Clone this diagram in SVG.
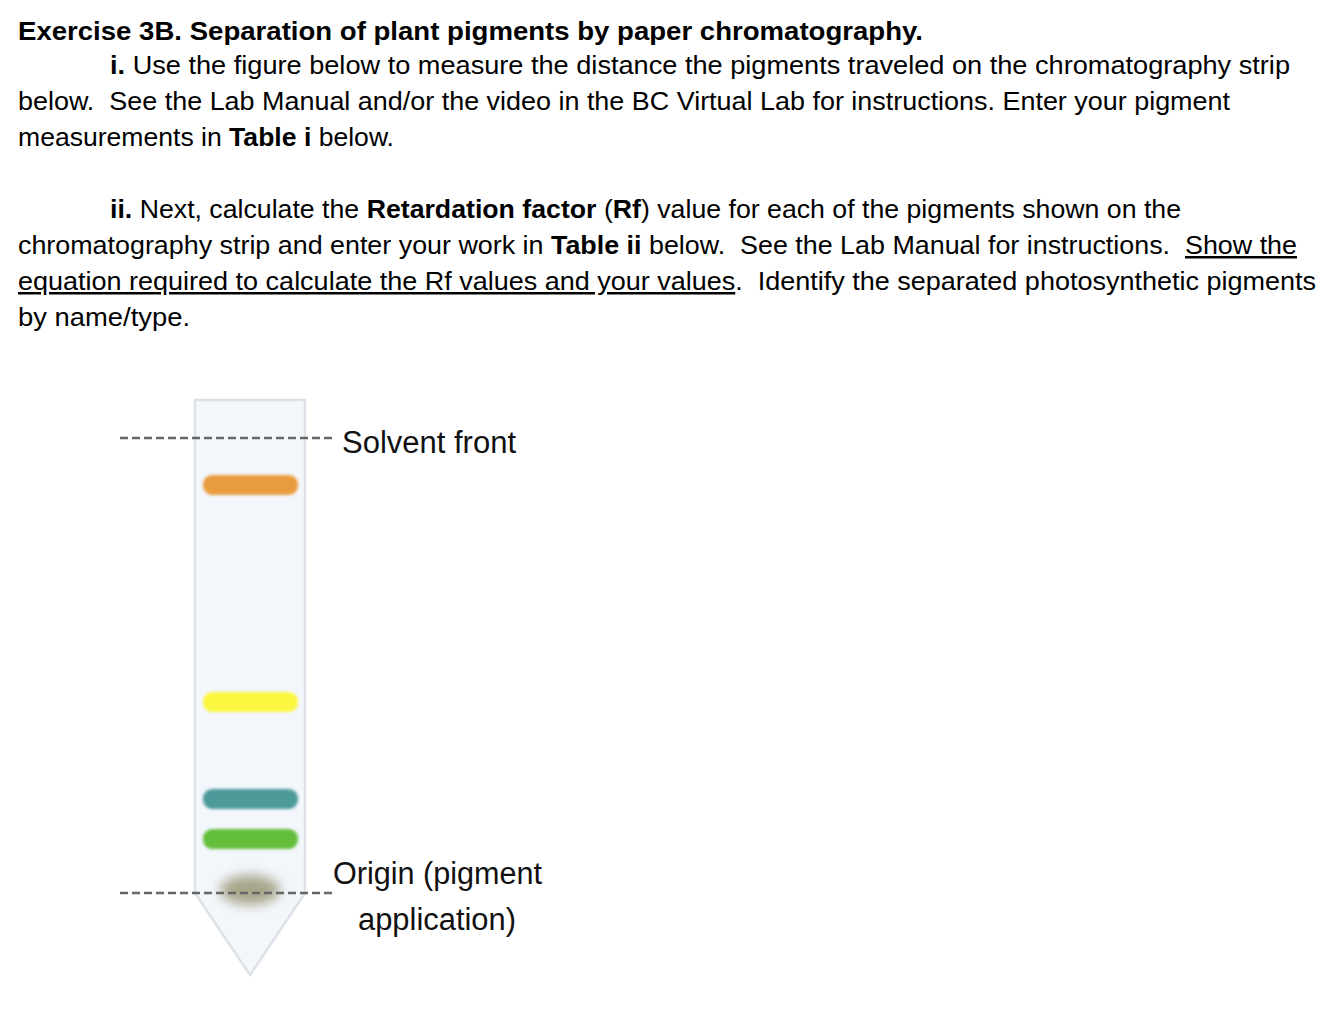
<svg xmlns="http://www.w3.org/2000/svg" width="1344" height="1012" viewBox="0 0 1344 1012">
<defs>
<style>
.t{font-family:"Liberation Sans",Arial,sans-serif;font-size:25px;fill:#000;white-space:pre}
.b{font-weight:bold}
.u{text-decoration:underline}
.l{font-family:"Liberation Sans",Arial,sans-serif;font-size:31px;fill:#111}
.d{stroke:#666;stroke-width:2.5;stroke-dasharray:8,4;fill:none}
</style>
<filter id="bl" x="-20%" y="-100%" width="140%" height="300%"><feGaussianBlur stdDeviation="1.5"/></filter>
<filter id="bl2" x="-50%" y="-100%" width="200%" height="300%"><feGaussianBlur stdDeviation="6"/></filter>
</defs>
<rect width="1344" height="1012" fill="#fff"/>
<text class="t b" x="18" y="40" textLength="905" lengthAdjust="spacingAndGlyphs">Exercise 3B. Separation of plant pigments by paper chromatography.</text>
<text class="t" x="110" y="74" textLength="1180" lengthAdjust="spacingAndGlyphs"><tspan class="b">i.</tspan> Use the figure below to measure the distance the pigments traveled on the chromatography strip</text>
<text class="t" x="18" y="110" textLength="1212" lengthAdjust="spacingAndGlyphs">below.  See the Lab Manual and/or the video in the BC Virtual Lab for instructions. Enter your pigment</text>
<text class="t" x="18" y="146" textLength="376" lengthAdjust="spacingAndGlyphs">measurements in <tspan class="b">Table i</tspan> below.</text>
<text class="t" x="110" y="218" textLength="1071" lengthAdjust="spacingAndGlyphs"><tspan class="b">ii.</tspan> Next, calculate the <tspan class="b">Retardation factor</tspan> (<tspan class="b">Rf</tspan>) value for each of the pigments shown on the</text>
<text class="t" x="18" y="254" textLength="1279" lengthAdjust="spacingAndGlyphs">chromatography strip and enter your work in <tspan class="b">Table ii</tspan> below.  See the Lab Manual for instructions.  <tspan class="u">Show the</tspan></text>
<text class="t" x="18" y="290" textLength="1298" lengthAdjust="spacingAndGlyphs"><tspan class="u">equation required to calculate the Rf values and your values</tspan>.  Identify the separated photosynthetic pigments</text>
<text class="t" x="18" y="326" textLength="172" lengthAdjust="spacingAndGlyphs">by name/type.</text>

<g id="strip">
<path d="M195,400 H305 V893 L250,975 L195,893 Z" fill="#f3f7fc" stroke="#dde2e8" stroke-width="2.5"/>
</g>
<g id="bands">
<rect x="203" y="475" width="95" height="20" rx="9" fill="#e89c3e" filter="url(#bl)"/>
<rect x="203" y="692" width="95" height="20" rx="9" fill="#fbf73f" filter="url(#bl)"/>
<rect x="203" y="789" width="95" height="20" rx="9" fill="#4e9a9b" filter="url(#bl)"/>
<rect x="203" y="829" width="95" height="20" rx="9" fill="#64bf3a" filter="url(#bl)"/>
<ellipse cx="250" cy="890" rx="30" ry="15" fill="#a8a58b" filter="url(#bl2)"/>
</g>
<g id="connectors">
<line class="d" x1="120" y1="438" x2="335" y2="438"/>
<line class="d" x1="120" y1="893" x2="335" y2="893"/>
</g>
<g id="labels">
<text class="l" x="342" y="453" textLength="174" lengthAdjust="spacingAndGlyphs">Solvent front</text>
<text class="l" x="333" y="884" textLength="209" lengthAdjust="spacingAndGlyphs">Origin (pigment</text>
<text class="l" x="358" y="930" textLength="158" lengthAdjust="spacingAndGlyphs">application)</text>
</g>
</svg>
